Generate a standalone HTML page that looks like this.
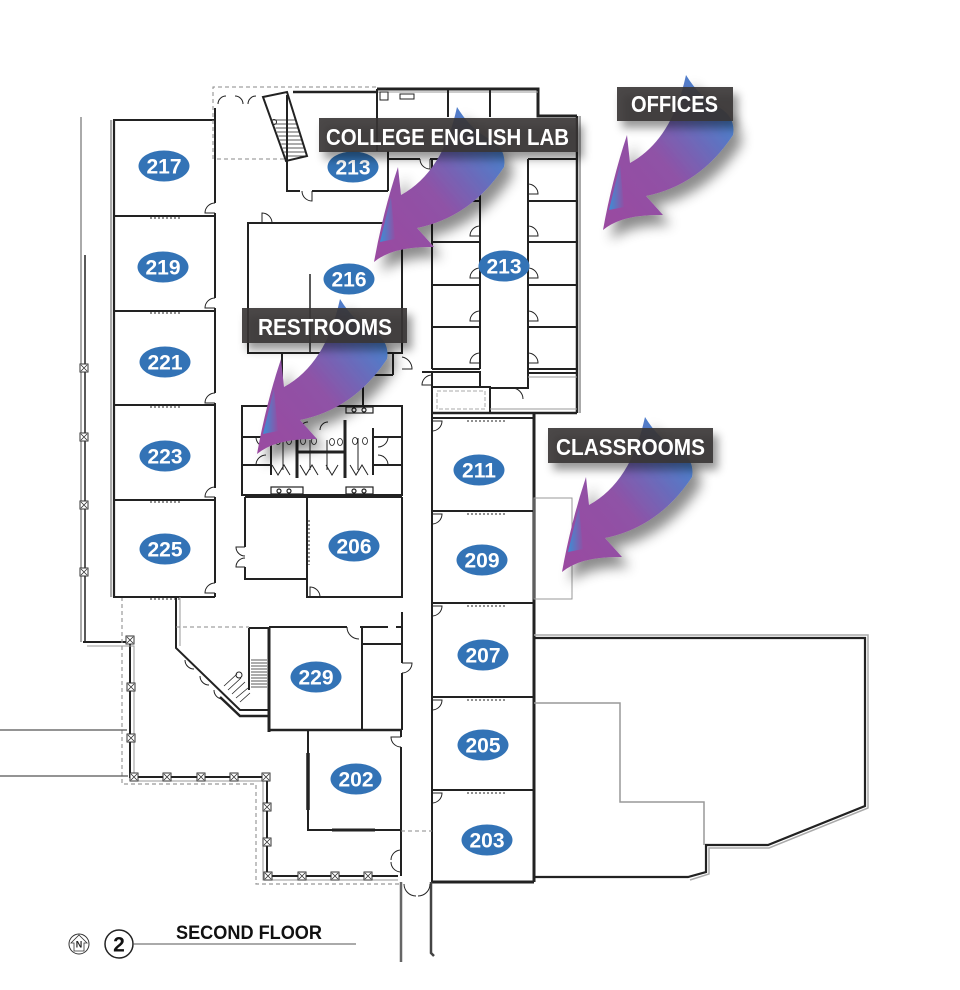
<!DOCTYPE html>
<html><head><meta charset="utf-8">
<style>
html,body{margin:0;padding:0;background:#fff;}
svg{display:block;}
text{font-family:"Liberation Sans",Arial,sans-serif;font-weight:bold;}
</style></head><body>
<svg width="960" height="990" viewBox="0 0 960 990" xmlns="http://www.w3.org/2000/svg">
<defs>
<linearGradient id="ag" x1="0" y1="1" x2="1" y2="0">
 <stop offset="0" stop-color="#9a4aa0"/>
 <stop offset="0.45" stop-color="#8f52a6"/>
 <stop offset="1" stop-color="#2f93dc"/>
</linearGradient>
<linearGradient id="fg" x1="0" y1="0" x2="1" y2="0">
 <stop offset="0" stop-color="#3b8fd6"/><stop offset="1" stop-color="#9150a4"/>
</linearGradient>
<filter id="sh" x="-40%" y="-40%" width="180%" height="180%">
 <feDropShadow dx="8" dy="10" stdDeviation="6" flood-color="#000" flood-opacity="0.45"/>
</filter>
<filter id="bsh" x="-20%" y="-50%" width="140%" height="220%">
 <feDropShadow dx="5" dy="7" stdDeviation="4.5" flood-color="#000" flood-opacity="0.45"/>
</filter>
<path id="arrow" d="M686,75 Q672,140 630,163 L627,135 Q612,180 603,230 Q622,214 663,215 L646,196 Q700,185 733,135 Q736,118 720,108 Q700,98 686,75 Z"/>
<path id="facet" d="M620,165 L609,210 L624,207 Z"/>
<g id="win"><rect x="-4" y="-4" width="8" height="8" fill="#fff" stroke="#333" stroke-width="1"/><path d="M-3,-3 L3,3 M3,-3 L-3,3" stroke="#333" stroke-width="0.8"/></g>
</defs>

<!-- ===== FLOOR PLAN ===== -->
<g fill="none" stroke="#222" stroke-width="2">
 <!-- far left -->
 <line x1="81" y1="117" x2="81" y2="642" stroke="#aaa" stroke-width="2"/>
 <line x1="85" y1="255" x2="85" y2="642" stroke-width="1.5"/>
 <polyline points="83,642 130,642 130,777 267,777 267,876 398,876"/>
 <polyline points="87,646 134,646 134,773" stroke="#999" stroke-width="1"/>
 <polyline points="134,781 263,781 263,880 398,880" stroke="#999" stroke-width="1"/>
 <polyline points="122,597 122,784 256,784 256,884 400,884" stroke="#999" stroke-width="1.2" stroke-dasharray="4,3"/>
 <line x1="0" y1="730" x2="127" y2="730" stroke="#555" stroke-width="1.2"/>
 <line x1="0" y1="776" x2="128" y2="776" stroke="#555" stroke-width="1.2"/>

 <!-- left classroom block -->
 <line x1="111" y1="120" x2="111" y2="597" stroke="#aaa" stroke-width="2"/>
 <line x1="114" y1="120" x2="114" y2="597" stroke-width="2.2"/>
 <path d="M113,120 H215 M113,216 H215 M113,311 H215 M113,405 H215 M113,500 H215 M113,597 H215" />
 <path d="M215,108 V203 M215,213 V298 M215,308 V393 M215,403 V488 M215,497 V583 M215,593 V597"/>
 <path d="M150,218 H180 M150,313 H180 M150,407 H180 M150,502 H180 M150,599 H180" stroke-dasharray="2,2" stroke-width="1"/>
 <g stroke-width="1">
  <path d="M215,213 H205 A10,10 0 0 1 215,203"/>
  <path d="M215,308 H205 A10,10 0 0 1 215,298"/>
  <path d="M215,403 H205 A10,10 0 0 1 215,393"/>
  <path d="M215,497 H205 A10,10 0 0 1 215,487"/>
  <path d="M215,593 H205 A10,10 0 0 1 215,583"/>
 </g>

 <!-- top-left stair / dashed -->
 <path d="M213,159 V87 H377 M217,159 H287" stroke="#888" stroke-width="1" stroke-dasharray="4,3"/>
 <g stroke-width="1">
  <path d="M218,104 A8,8 0 0 1 226,96"/>
  <path d="M235,96 A8,8 0 0 1 243,104"/>
  <path d="M248,104 A8,8 0 0 1 256,96"/>
 </g>
 <polygon points="263,97 287,92 307,156 286,161" stroke-width="2"/>
 <path d="M272.7,120 H295.5 M274.1,124 H296.7 M275.6,128 H297.9 M277,132 H299.1 M278.4,136 H300.3 M279.8,140 H301.5 M281.3,144 H302.7 M282.7,148 H303.9 M284.1,152 H305.1 M285.5,156 H306.3" stroke-width="0.8"/>
 <circle cx="274" cy="122" r="2.5" stroke-width="1"/>

 <!-- top walls -->
 <path d="M293,92 H377" stroke-width="2.5"/>
 <path d="M377,89 H538 V116 H577" stroke-width="3"/>
 <path d="M377,92 H538" stroke="#999" stroke-width="1"/>
 <line x1="577" y1="116" x2="577" y2="413" stroke-width="2.5"/>
 <line x1="580" y1="116" x2="580" y2="413" stroke="#aaa" stroke-width="2"/>
 <path d="M377,89 V151 M388,151 V191 M448,89 V117 M490,89 V117"/>
 <rect x="380" y="92" width="8" height="8" stroke-width="1"/>
 <rect x="400" y="94" width="14" height="5" stroke-width="1"/>
 <!-- room 213 upper -->
 <path d="M287,95 V191 H300 M312,191 H388"/>
 <path d="M312,191 V201 A10,10 0 0 1 302,191" stroke-width="1"/>
 <path d="M388,159 H420 M430,159 H480 M528,159 H577"/>
 <path d="M430,159 V169 A10,10 0 0 1 420,159" stroke-width="1"/>

 <!-- offices column -->
 <path d="M432,159 V369 M480,159 V369 M528,159 V369"/>
 <path d="M432,201 H480 M432,242 H480 M432,285 H480 M432,327 H480 M432,369 H480"/>
 <path d="M528,201 H577 M528,242 H577 M528,285 H577 M528,327 H577 M528,369 H577"/>
 <g stroke-width="1">
  <path d="M480,194 H470 A10,10 0 0 1 480,184"/>
  <path d="M480,236 H470 A10,10 0 0 1 480,226"/>
  <path d="M480,278 H470 A10,10 0 0 1 480,268"/>
  <path d="M480,321 H470 A10,10 0 0 1 480,311"/>
  <path d="M480,363 H470 A10,10 0 0 1 480,353"/>
  <path d="M528,194 H538 A10,10 0 0 0 528,184"/>
  <path d="M528,236 H538 A10,10 0 0 0 528,226"/>
  <path d="M528,278 H538 A10,10 0 0 0 528,268"/>
  <path d="M528,321 H538 A10,10 0 0 0 528,311"/>
  <path d="M528,363 H538 A10,10 0 0 0 528,353"/>
 </g>
 <!-- bottom of offices -->
 <path d="M422,372 H480 V388 M432,372 V413 M432,387 H490 V413 M490,388 H528 V369 M528,373 H577"/>
 <path d="M528,377 H577" stroke="#999" stroke-width="1"/>
 <rect x="437" y="391" width="48" height="18" stroke="#aaa" stroke-width="1" stroke-dasharray="4,2"/>
 <path d="M432,385 H422 A10,10 0 0 1 432,375" stroke-width="1"/>
 <path d="M512,388 A11,11 0 0 1 523,399" stroke-width="1"/>
 <path d="M432,413 H577" stroke-width="2.5"/>
 <path d="M490,409 H577" stroke="#999" stroke-width="1"/>

 <!-- 211-203 column -->
 <path d="M432,413 V882"/>
 <path d="M534,413 V882" stroke-width="3"/>
 <path d="M432,418 H534 M432,511 H534 M432,603 H534 M432,697 H534 M432,790 H534"/>
 <path d="M432,882 H534" stroke-width="3"/>
 <path d="M467,514 H507 M467,606 H507 M467,700 H507 M467,793 H507 M467,421 H507" stroke-dasharray="2,2" stroke-width="1"/>
 <g stroke-width="1">
  <path d="M432,421 H442 A10,10 0 0 1 432,431"/>
  <path d="M432,514 H442 A10,10 0 0 1 432,524"/>
  <path d="M432,606 H442 A10,10 0 0 1 432,616"/>
  <path d="M432,700 H442 A10,10 0 0 1 432,710"/>
  <path d="M432,793 H442 A10,10 0 0 1 432,803"/>
 </g>
 <rect x="534" y="498" width="38" height="101" stroke="#999" stroke-width="1"/>

 <!-- big right shape -->
 <path d="M534,638 H865 V806 L768,845 H706 V872 L688,877 H534" stroke-width="2.2"/>
 <path d="M534,635 H868 V808 L769,848 H709 V874 L690,880" stroke="#aaa" stroke-width="1.5"/>
 <path d="M534,703 H620 V802 H704 V845" stroke="#999" stroke-width="1.5"/>

 <!-- bottom corridor -->
 <path d="M401,882 V962" stroke="#666" stroke-width="2.5"/>
 <path d="M431,882 V953 L434,956" stroke="#444" stroke-width="2.5"/>
 <g stroke-width="1">
  <path d="M404,884 A12,12 0 0 0 416,896"/>
  <path d="M430,884 A12,12 0 0 1 418,896"/>
 </g>

 <!-- 216 room -->
 <rect x="248" y="223" width="154" height="130"/>
 <path d="M262,223 V213 A10,10 0 0 1 272,223" stroke-width="1"/>
 <line x1="310" y1="274" x2="310" y2="353" stroke-width="1.5"/>
 <!-- between 216 and restrooms -->
 <path d="M282,353 V383 M363,353 V406 M363,375 H393 M393,353 V375"/>
 <path d="M282,383 A10,10 0 0 0 272,393 H282" stroke-width="1"/>
 <path d="M402,357 A12,12 0 0 1 412,369 H402" stroke-width="1"/>
 <!-- restrooms -->
 <rect x="242" y="406" width="160" height="89"/>
 <g stroke-width="1.2">
  <rect x="271" y="407" width="32" height="6"/><rect x="346" y="407" width="27" height="6"/>
  <rect x="271" y="487" width="32" height="7"/><rect x="346" y="487" width="27" height="7"/>
  <circle cx="279" cy="410" r="2"/><circle cx="289" cy="410" r="2"/><circle cx="354" cy="410" r="2"/><circle cx="364" cy="410" r="2"/>
  <circle cx="279" cy="491" r="2"/><circle cx="289" cy="491" r="2"/><circle cx="354" cy="491" r="2"/><circle cx="364" cy="491" r="2"/>
 </g>
 <path d="M242,437 H270 M242,465 H270 M374,437 H402 M374,465 H402"/>
 <path d="M271,428 V475 M373,428 V475"/>
 <path d="M297,425 V478 M345,420 V478 M297,452 H345" stroke-width="3"/>
 <path d="M283,438 V470 M310,440 V470 M327,440 V470 M358,438 V470" stroke-width="1"/>
 <g stroke-width="0.8">
  <ellipse cx="278" cy="441" rx="2.5" ry="3.5"/><ellipse cx="289" cy="441" rx="2.5" ry="3.5"/>
  <ellipse cx="303" cy="441" rx="2.5" ry="3.5"/><ellipse cx="314" cy="441" rx="2.5" ry="3.5"/>
  <ellipse cx="332" cy="442" rx="2.5" ry="3.5"/><ellipse cx="340" cy="442" rx="2.5" ry="3.5"/>
  <ellipse cx="355" cy="441" rx="2.5" ry="3.5"/><ellipse cx="365" cy="441" rx="2.5" ry="3.5"/>
 </g>
 <g stroke-width="1">
  <path d="M256,437 A10,10 0 0 0 266,447"/><path d="M256,465 A10,10 0 0 1 266,455"/>
  <path d="M388,437 A10,10 0 0 1 378,447"/><path d="M388,465 A10,10 0 0 0 378,455"/>
  <path d="M272,465 L278,475 L284,465 L290,475"/><path d="M300,465 L306,475 L312,465 L318,475"/>
  <path d="M326,465 L332,475 L338,465"/><path d="M350,465 L356,475 L362,465 L368,475"/>
  <path d="M300,430 A8,8 0 0 1 308,422"/><path d="M320,430 A8,8 0 0 1 328,422"/>
 </g>

 <!-- 206 area -->
 <path d="M245,497 H402 M245,497 V547 M245,567 V579 H307 M307,497 V597 H402 V497"/>
 <g stroke-width="1">
  <path d="M245,547 H236 A9,9 0 0 0 245,556"/>
  <path d="M245,567 H236 A9,9 0 0 1 245,558"/>
  <path d="M310,597 V587 A10,10 0 0 1 320,597"/>
 </g>
 <path d="M309,520 V565" stroke-width="1" stroke-dasharray="2,2"/>

 <!-- 229 / 202 area -->
 <path d="M176,597 V648 L240,710 H269"/>
 <path d="M180,597 V646" stroke="#999" stroke-width="1"/>
 <path d="M220,697 L240,716 H269" stroke-width="2.5"/>
 <g stroke-width="1">
  <path d="M185,660 A9,9 0 0 0 194,669"/><path d="M200,676 A9,9 0 0 0 209,685"/><path d="M214,690 A9,9 0 0 0 222,699"/>
 </g>
 <path d="M269,627 V732" stroke-width="3"/>
 <path d="M249,628 V690 M249,628 H269"/>
 <path d="M251,660 H267 M251,663 H267 M251,666 H267 M251,669 H267 M251,672 H267 M251,675 H267 M251,678 H267 M251,681 H267 M251,684 H267 M251,687 H267" stroke-width="0.8"/>
 <path d="M228,690 L241,678 M232,694 L245,682 M236,698 L248,688 M240,702 L250,693 M224,686 L237,674" stroke-width="0.8"/>
 <circle cx="239" cy="675" r="3" stroke-width="1"/>
 <path d="M176,627 H249" stroke="#888" stroke-width="1" stroke-dasharray="4,3"/>
 <path d="M269,627 H347 M360,627 H388 M396,627 H402"/>
 <path d="M347,627 A12,12 0 0 0 359,639" stroke-width="1"/>
 <path d="M402,612 V663 M402,673 V730"/>
 <path d="M402,673 A10,10 0 0 0 412,663 H402" stroke-width="1"/>
 <path d="M362,627 V730 M362,644 H402"/>
 <path d="M269,730 H402" stroke-width="2.5"/>
 <path d="M308,730 V830 H401 M401,730 V737 M401,747 V876"/>
 <path d="M308,753 V810" stroke-width="3.5"/>
 <path d="M332,830 H375" stroke-width="3"/>
 <path d="M401,737 H391 A10,10 0 0 0 401,747" stroke-width="1"/>
 <path d="M401,831 H432" stroke="#888" stroke-width="1" stroke-dasharray="4,3"/>
 <g stroke-width="1">
  <path d="M401,850 A10,10 0 0 0 391,860"/><path d="M401,872 A10,10 0 0 1 391,862"/>
 </g>
</g>

<!-- window symbols -->
<g>
 <use href="#win" x="84" y="368"/><use href="#win" x="84" y="437"/><use href="#win" x="84" y="505"/><use href="#win" x="84" y="572"/>
 <use href="#win" x="130" y="640"/><use href="#win" x="131" y="687"/><use href="#win" x="131" y="738"/>
 <use href="#win" x="134" y="777"/><use href="#win" x="167" y="777"/><use href="#win" x="201" y="777"/><use href="#win" x="234" y="777"/><use href="#win" x="266" y="777"/>
 <use href="#win" x="267" y="807"/><use href="#win" x="267" y="842"/>
 <use href="#win" x="268" y="876"/><use href="#win" x="302" y="876"/><use href="#win" x="335" y="876"/><use href="#win" x="368" y="876"/>
</g>

<!-- room ellipses -->
<g fill="#3373b6">
 <ellipse cx="164" cy="166" rx="25.5" ry="15.5"/>
 <ellipse cx="163" cy="267" rx="25.5" ry="15.5"/>
 <ellipse cx="165" cy="362" rx="25.5" ry="15.5"/>
 <ellipse cx="165" cy="456" rx="25.5" ry="15.5"/>
 <ellipse cx="165" cy="549" rx="25.5" ry="15.5"/>
 <ellipse cx="353" cy="167" rx="25.5" ry="15.5"/>
 <ellipse cx="349" cy="279" rx="25.5" ry="15.5"/>
 <ellipse cx="504" cy="266" rx="25.5" ry="15.5"/>
 <ellipse cx="479" cy="470" rx="25.5" ry="15.5"/>
 <ellipse cx="482" cy="560" rx="25.5" ry="15.5"/>
 <ellipse cx="483" cy="655" rx="25.5" ry="15.5"/>
 <ellipse cx="483" cy="745" rx="25.5" ry="15.5"/>
 <ellipse cx="487" cy="840" rx="25.5" ry="15.5"/>
 <ellipse cx="354" cy="546" rx="25.5" ry="15.5"/>
 <ellipse cx="316" cy="677" rx="25.5" ry="15.5"/>
 <ellipse cx="356" cy="779" rx="25.5" ry="15.5"/>
</g>
<g fill="#fff" font-size="21" text-anchor="middle">
 <text x="164" y="173.5">217</text>
 <text x="163" y="274.5">219</text>
 <text x="165" y="369.5">221</text>
 <text x="165" y="463.5">223</text>
 <text x="165" y="556.5">225</text>
 <text x="353" y="174.5">213</text>
 <text x="349" y="286.5">216</text>
 <text x="504" y="273.5">213</text>
 <text x="479" y="477.5">211</text>
 <text x="482" y="567.5">209</text>
 <text x="483" y="662.5">207</text>
 <text x="483" y="752.5">205</text>
 <text x="487" y="847.5">203</text>
 <text x="354" y="553.5">206</text>
 <text x="316" y="684.5">229</text>
 <text x="356" y="786.5">202</text>
</g>

<!-- arrows -->
<g filter="url(#sh)"><use href="#arrow" fill="url(#ag)"/></g>
<use href="#facet" fill="url(#fg)"/>
<g filter="url(#sh)"><use href="#arrow" fill="url(#ag)" transform="translate(-229,32)"/></g>
<use href="#facet" fill="url(#fg)" transform="translate(-229,32)"/>
<g filter="url(#sh)"><use href="#arrow" fill="url(#ag)" transform="translate(-346,224)"/></g>
<use href="#facet" fill="url(#fg)" transform="translate(-346,224)"/>
<g filter="url(#sh)"><use href="#arrow" fill="url(#ag)" transform="translate(-41,342)"/></g>
<use href="#facet" fill="url(#fg)" transform="translate(-41,342)"/>

<!-- label boxes -->
<g filter="url(#bsh)">
 <rect x="319" y="118" width="259" height="34" fill="#363434" fill-opacity="0.9"/>
</g>
<g filter="url(#bsh)">
 <rect x="617" y="87" width="116" height="34" fill="#363434" fill-opacity="0.9"/>
</g>
<g filter="url(#bsh)">
 <rect x="242" y="308" width="165" height="35" fill="#363434" fill-opacity="0.9"/>
</g>
<g filter="url(#bsh)">
 <rect x="548" y="428" width="165" height="35" fill="#363434" fill-opacity="0.9"/>
</g>
<g fill="#fff" font-size="23.5">
 <text x="326" y="145" textLength="243" lengthAdjust="spacingAndGlyphs">COLLEGE ENGLISH LAB</text>
 <text x="631" y="112" textLength="87" lengthAdjust="spacingAndGlyphs">OFFICES</text>
 <text x="258" y="335" textLength="134" lengthAdjust="spacingAndGlyphs">RESTROOMS</text>
 <text x="556" y="455" textLength="149" lengthAdjust="spacingAndGlyphs">CLASSROOMS</text>
</g>

<!-- title block -->
<g fill="none" stroke="#333">
 <circle cx="79" cy="944" r="10" stroke-width="1"/>
 <polygon points="79,935 87,943 84,943 84,951 74,951 74,943 71,943" stroke-width="0.8"/>
 <circle cx="119" cy="944" r="14" stroke="#222" stroke-width="1.5"/>
 <line x1="133" y1="944" x2="356" y2="944" stroke="#555" stroke-width="1"/>
</g>
<text x="79" y="947.5" font-size="9" text-anchor="middle" fill="#222" font-weight="normal">N</text>
<text x="119" y="951.5" font-size="21" text-anchor="middle" fill="#111">2</text>
<text x="176" y="939" font-size="19.5" fill="#111" textLength="146" lengthAdjust="spacingAndGlyphs">SECOND FLOOR</text>
</svg>
</body></html>
